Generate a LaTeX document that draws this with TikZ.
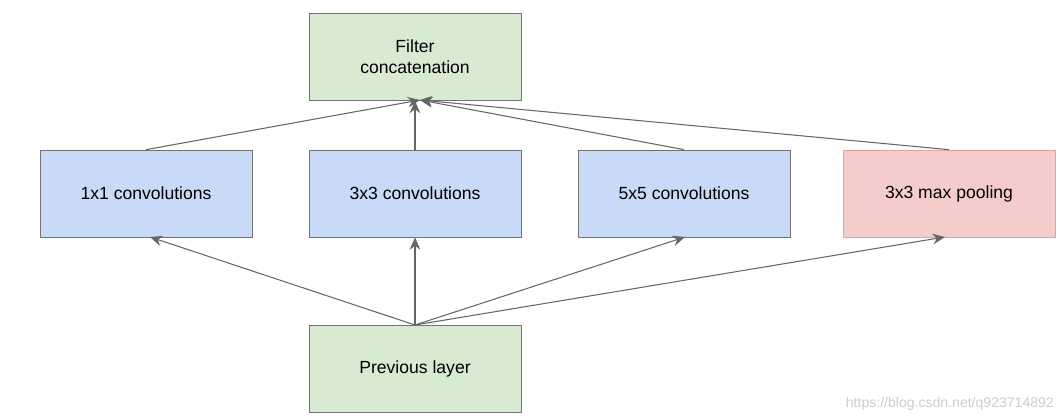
\documentclass[tikz,border=0pt]{standalone}
\usepackage{fontspec}
\setmainfont{Liberation Sans}
\usepackage{tikz}

\definecolor{boxgreen}{HTML}{D9EAD3}
\definecolor{boxblue}{HTML}{C9DAF8}
\definecolor{boxred}{HTML}{F4CCCC}
\definecolor{edgered}{HTML}{E6A0A0}

\tikzset{
  block/.style={draw=black!55,minimum width=4.24cm,minimum height=1.74cm,align=center,inner sep=2pt},
  greenbox/.style={block,fill=boxgreen},
  bluebox/.style={block,fill=boxblue},
  redbox/.style={block,fill=boxred,draw=edgered},
  flow/.style={draw=black!60,semithick,-{Stealth[length=7pt,width=6pt]}}
}
\usetikzlibrary{arrows.meta}

\begin{document}
\begin{tikzpicture}[x=0.02cm,y=-0.02cm]
        \useasboundingbox (0,0) rectangle (1064,418);
        \node[greenbox] (concat) at (415,57) {Filter\\concatenation};
        \node[bluebox] (conva) at (146,193.5) {1x1 convolutions};
        \node[bluebox] (convb) at (415,193.5) {3x3 convolutions};
        \node[bluebox] (convc) at (684,193.5) {5x5 convolutions};
        \node[redbox] (pool) at (949,193.5) {3x3 max pooling};
        \node[greenbox] (prev) at (415,368.5) {Previous layer};
        \coordinate (hub) at (420,100);
        \coordinate (src) at (415,325);
        % upper arrows
        \draw[flow] (conva.north) -- (hub);
        \draw[flow] (convb.north) -- (convb.north |- concat.south);
        \draw[flow] (convc.north) -- (hub);
        \draw[flow] (pool.north) -- (hub);
        % lower arrows
        \draw[flow] (src) -- (150,237);
        \draw[flow] (src) -- (convb.south);
        \draw[flow] (src) -- (685,237);
        \draw[flow] (src) -- (945,237);
        \node[text=black!20,font=\footnotesize,anchor=east] (mark) at (1060,404) {https://blog.csdn.net/q923714892};
\end{tikzpicture}
\end{document}
